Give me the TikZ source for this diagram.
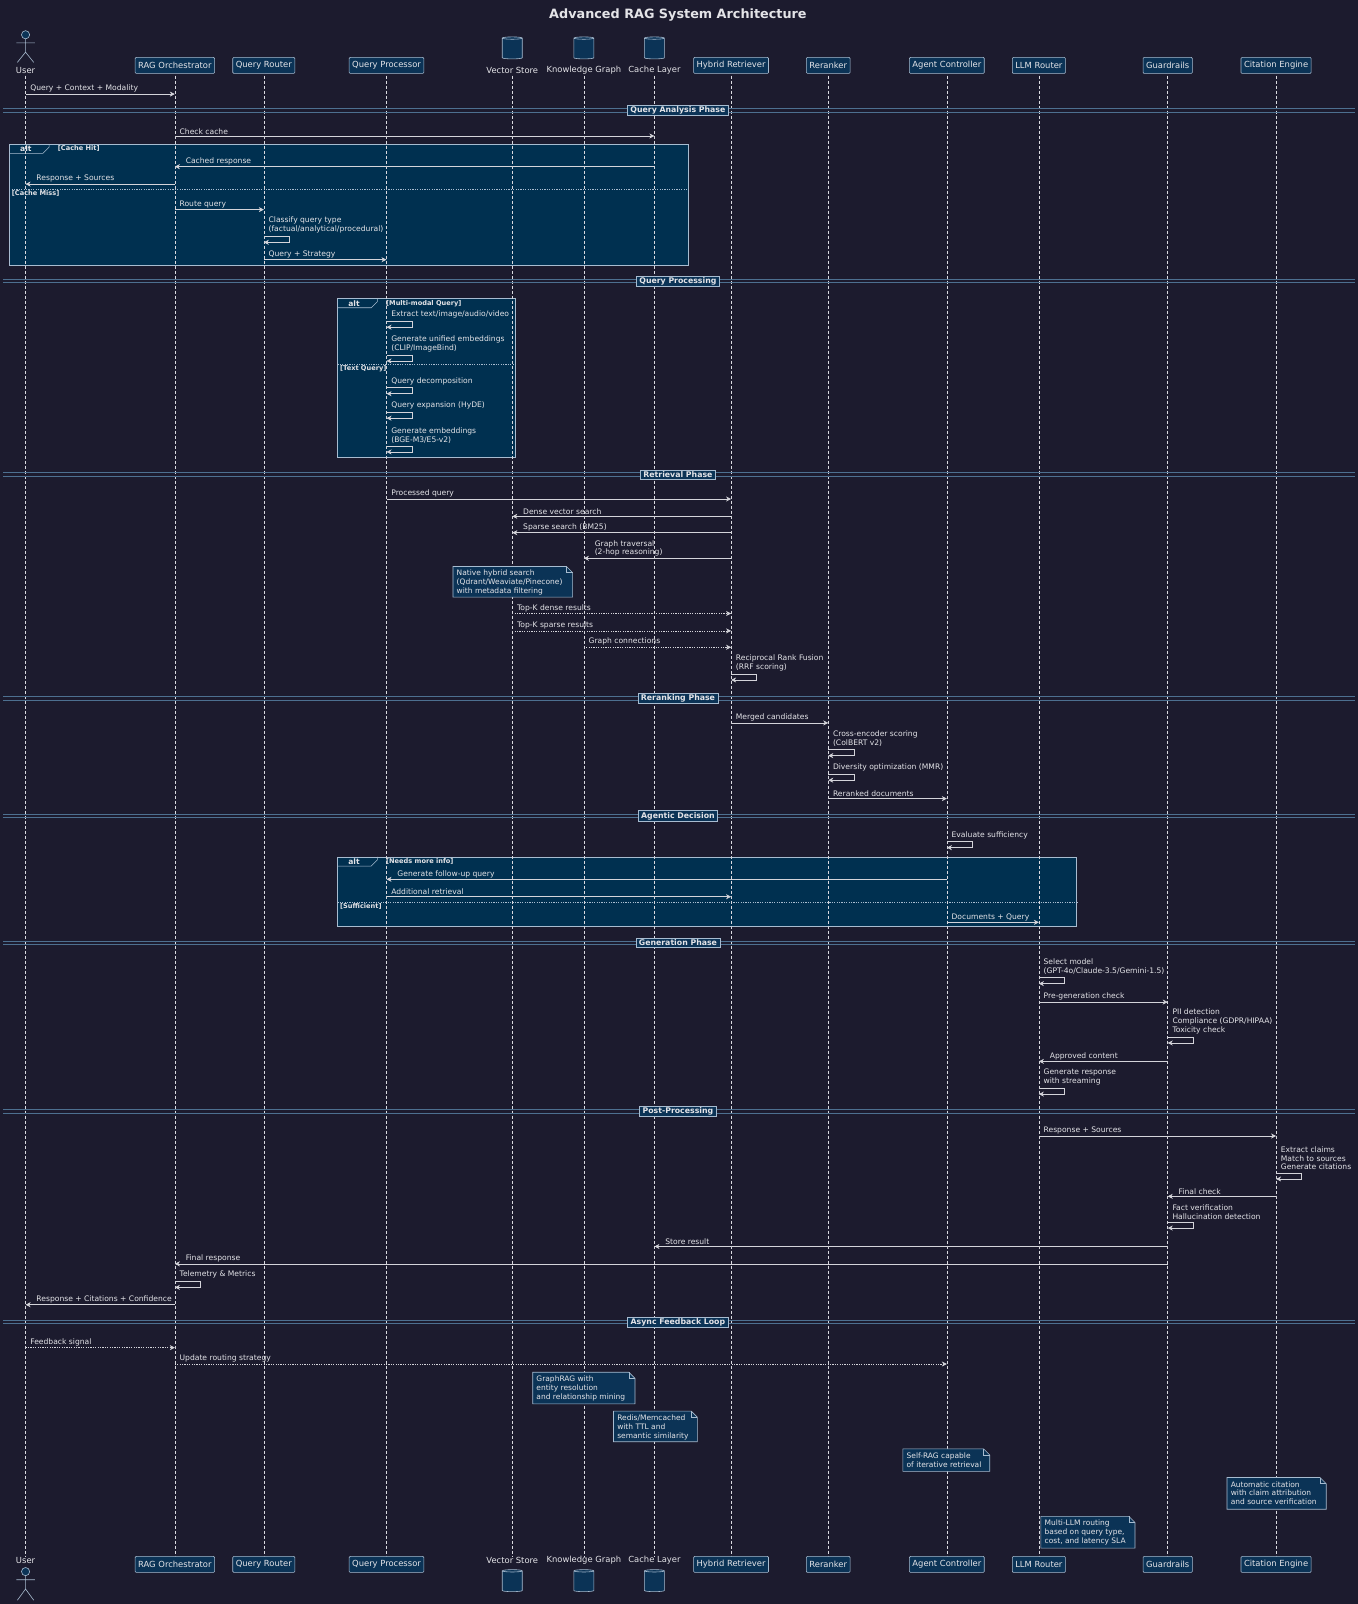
\documentclass[tikz,border=0pt]{standalone}
\usepackage{fontspec}
\setmainfont{DejaVu Sans}
\usetikzlibrary{arrows.meta,shapes.geometric,calc}
\definecolor{bg}{HTML}{1C1B2E}
\definecolor{txt}{HTML}{E4E4E8}
\definecolor{ln}{HTML}{D4D4DA}
\definecolor{boxf}{HTML}{0B3356}
\definecolor{boxd}{HTML}{A8BCD0}
\definecolor{altf}{HTML}{003050}
\definecolor{divl}{HTML}{4D7090}
\tikzset{
  lbl/.style={anchor=south west,inner sep=0.5pt,text=txt,font=\fontsize{7.6}{8.9}\selectfont,align=left},
  msgline/.style={draw=ln,line width=0.6pt,-{Stealth[length=5pt,width=5pt,inset=1.5pt]}},
  dot/.style={dash pattern=on 1.2pt off 1.2pt},
  part/.style={draw=boxd,fill=boxf,text=txt,rounded corners=1pt,minimum height=16pt,inner xsep=3pt,inner ysep=1pt,font=\fontsize{8.4}{10}\selectfont,line width=0.6pt},
  db/.style={cylinder,shape border rotate=90,aspect=0.35,draw=boxd,fill=boxf,minimum width=20pt,minimum height=22pt,line width=0.6pt},
  plbl/.style={text=txt,font=\fontsize{8.4}{10}\selectfont,inner sep=0.5pt},
  lifeline/.style={draw=ln!85,line width=0.5pt,dash pattern=on 3pt off 2pt},
  altbox/.style={draw=boxd,fill=altf,line width=0.6pt},
  guard/.style={anchor=north west,inner sep=0.5pt,text=txt,font=\bfseries\fontsize{6.6}{7.5}\selectfont},
  notebox/.style={draw=boxd,fill=boxf,line width=0.6pt},
  divlbl/.style={draw=boxd,fill=boxf,text=txt,font=\bfseries\fontsize{7.8}{9}\selectfont,inner xsep=3pt,inner ysep=1.5pt,line width=0.6pt},
}
\newcommand\mR[5][]{\draw[msgline,#1] (#2|-0,#4) -- (#3|-0,#4); \node[lbl] at ($(#2|-0,#4)+(4,-1)$) {#5};}
\newcommand\mL[5][]{\draw[msgline,#1] (#2|-0,#4) -- (#3|-0,#4); \node[lbl] at ($(#3|-0,#4)+(10,-1)$) {#5};}
\newcommand\selfm[3]{\draw[msgline] (#1|-0,#2) -- ($(#1|-0,#2)+(25,0)$) -- ($(#1|-0,#2)+(25,6)$) -- ($(#1|-0,#2)+(0,6)$); \node[lbl] at ($(#1|-0,#2)+(4,-2)$) {#3};}
\newcommand\divider[2]{\draw[divl,line width=0.8pt] (3,#1-1.6) -- (1325,#1-1.6) (3,#1+1.6) -- (1325,#1+1.6); \node[divlbl] at (663,#1) {#2};}
\newcommand\altframe[5]{%
  \draw[altbox] (#1,#2) rectangle (#3,#4);
  \draw[boxd,line width=0.6pt] (#1,#2+9) -- (#1+33,#2+9) -- (#1+39,#2+3) -- (#1+39,#2);
  \node[anchor=west,inner sep=0.5pt,text=txt,font=\bfseries\fontsize{7.6}{8}\selectfont] at (#1+10,#2+4.5) {alt};
  \node[guard] at (#1+47,#2+1) {#5};}
\newcommand\note[5]{%
  \draw[notebox] (#1,#2) -- (#3-6,#2) -- (#3,#2+6) -- (#3,#4) -- (#1,#4) -- cycle;
  \draw[boxd,line width=0.6pt] (#3-6,#2) -- (#3-6,#2+6) -- (#3,#2+6);
  \node[anchor=north west,inner sep=0.5pt,text=txt,font=\fontsize{7.5}{8.8}\selectfont,align=left] at (#1+3,#2+3) {#5};}
\begin{document}
\begin{tikzpicture}[x=1.0225pt,y=-1.0225pt]
\fill[bg] (0,0) rectangle (1328.1,1568.7);
\useasboundingbox (0,0) rectangle (1328.1,1568.7);
\node[text=txt,font=\bfseries\fontsize{12.8}{14}\selectfont] (title) at (663,15) {Advanced RAG System Architecture};
% lifeline coordinates
\coordinate (U) at (25,0); \coordinate (O) at (171,0); \coordinate (R) at (258,0);
\coordinate (P) at (378,0); \coordinate (V) at (501,0); \coordinate (K) at (571,0);
\coordinate (C) at (640,0); \coordinate (H) at (715,0); \coordinate (X) at (810,0);
\coordinate (A) at (926,0); \coordinate (L) at (1016,0); \coordinate (G) at (1142,0);
\coordinate (E) at (1248,0);
% alt frames
\altframe{9}{141}{673}{259}{[Cache Hit]}
\altframe{330}{292}{504}{447}{[Multi-modal Query]}
\altframe{330}{838}{1053}{906}{[Needs more info]}
\draw[boxd,line width=0.6pt,dot] (9,185) -- (673,185);
\node[guard] at (11,186) {[Cache Miss]};
\draw[boxd,line width=0.6pt,dot] (330,356) -- (504,356);
\node[guard] at (332,357) {[Text Query]};
\draw[boxd,line width=0.6pt,dot] (330,882) -- (1053,882);
\node[guard] at (332,883) {[Sufficient]};
% lifelines
\foreach \c in {U,O,R,P,V,K,C,H,X,A,L,G,E} {\draw[lifeline] (\c|-0,74) -- (\c|-0,1522);}
% participants top
\node[part] (tO) at (171,64) {RAG Orchestrator};
\node[part] (tR) at (258,64) {Query Router};
\node[part] (tP) at (378,64) {Query Processor};
\node[part] (tH) at (715,64) {Hybrid Retriever};
\node[part] (tX) at (810,64) {Reranker};
\node[part] (tA) at (926,64) {Agent Controller};
\node[part] (tL) at (1016,64) {LLM Router};
\node[part] (tG) at (1142,64) {Guardrails};
\node[part] (tE) at (1248,64) {Citation Engine};
\node[db] (tV) at (501,48) {}; \node[plbl] (tVl) at (501,69) {Vector Store};
\node[db] (tK) at (571,48) {}; \node[plbl] (tKl) at (571,69) {Knowledge Graph};
\node[db] (tC) at (640,48) {}; \node[plbl] (tCl) at (640,69) {Cache Layer};
\node[plbl] (tUl) at (25,69) {User};
\begin{scope}[draw=boxd,line width=0.6pt]
\draw[fill=boxf] (25,34) circle (4);
\draw (25,38) -- (25,51) (16,42) -- (34,42) (17,61) -- (25,51) -- (33,61);
\end{scope}
% participants bottom
\node[part] (bO) at (171,1530) {RAG Orchestrator};
\node[part] (bR) at (258,1530) {Query Router};
\node[part] (bP) at (378,1530) {Query Processor};
\node[part] (bH) at (715,1530) {Hybrid Retriever};
\node[part] (bX) at (810,1530) {Reranker};
\node[part] (bA) at (926,1530) {Agent Controller};
\node[part] (bL) at (1016,1530) {LLM Router};
\node[part] (bG) at (1142,1530) {Guardrails};
\node[part] (bE) at (1248,1530) {Citation Engine};
\node[plbl] (bVl) at (501,1526) {Vector Store}; \node[db] (bV) at (501,1547) {};
\node[plbl] (bKl) at (571,1526) {Knowledge Graph}; \node[db] (bK) at (571,1547) {};
\node[plbl] (bCl) at (640,1526) {Cache Layer}; \node[db] (bC) at (640,1547) {};
\node[plbl] (bUl) at (25,1526) {User};
\begin{scope}[draw=boxd,line width=0.6pt]
\draw[fill=boxf] (25,1537) circle (4);
\draw (25,1541) -- (25,1554) (16,1545) -- (34,1545) (17,1565) -- (25,1554) -- (33,1565);
\end{scope}
% messages
\mR{U}{O}{92}{Query + Context + Modality}
\divider{108}{Query Analysis Phase}
\mR{O}{C}{133}{Check cache}
\mL{C}{O}{163}{Cached response}
\mL{O}{U}{180}{Response + Sources}
\mR{O}{R}{205}{Route query}
\selfm{R}{231}{Classify query type\\(factual/analytical/procedural)}
\mR{R}{P}{254}{Query + Strategy}
\divider{275}{Query Processing}
\selfm{P}{314}{Extract text/image/audio/video}
\selfm{P}{347}{Generate unified embeddings\\(CLIP/ImageBind)}
\selfm{P}{379}{Query decomposition}
\selfm{P}{403}{Query expansion (HyDE)}
\selfm{P}{436}{Generate embeddings\\(BGE-M3/E5-v2)}
\divider{464}{Retrieval Phase}
\mR{P}{H}{488}{Processed query}
\mL{H}{V}{505}{Dense vector search}
\mL{H}{V}{521}{Sparse search (BM25)}
\mL{H}{K}{546}{Graph traversal\\(2-hop reasoning)}
\note{443}{554}{560}{584}{Native hybrid search\\(Qdrant/Weaviate/Pinecone)\\with metadata filtering}
\mR[dot]{V}{H}{600}{Top-K dense results}
\mR[dot]{V}{H}{617}{Top-K sparse results}
\mR[dot]{K}{H}{633}{Graph connections}
\selfm{H}{659}{Reciprocal Rank Fusion\\(RRF scoring)}
\divider{683}{Reranking Phase}
\mR{H}{X}{707}{Merged candidates}
\selfm{X}{733}{Cross-encoder scoring\\(ColBERT v2)}
\selfm{X}{757}{Diversity optimization (MMR)}
\mR{X}{A}{781}{Reranked documents}
\divider{798}{Agentic Decision}
\selfm{A}{823}{Evaluate sufficiency}
\mL{A}{P}{860}{Generate follow-up query}
\mR{P}{H}{877}{Additional retrieval}
\mR{A}{L}{902}{Documents + Query}
\divider{922}{Generation Phase}
\selfm{L}{956}{Select model\\(GPT-4o/Claude-3.5/Gemini-1.5)}
\mR{L}{G}{980}{Pre-generation check}
\selfm{G}{1014}{PII detection\\Compliance (GDPR/HIPAA)\\Toxicity check}
\mL{G}{L}{1038}{Approved content}
\selfm{L}{1064}{Generate response\\with streaming}
\divider{1087}{Post-Processing}
\mR{L}{E}{1111}{Response + Sources}
\selfm{E}{1147}{Extract claims\\Match to sources\\Generate citations}
\mL{E}{G}{1170}{Final check}
\selfm{G}{1195}{Fact verification\\Hallucination detection}
\mL{G}{C}{1219}{Store result}
\mL{G}{O}{1236}{Final response}
\selfm{O}{1253}{Telemetry \& Metrics}
\mL{O}{U}{1276}{Response + Citations + Confidence}
\divider{1293}{Async Feedback Loop}
\mR[dot]{U}{O}{1318}{Feedback signal}
\mR[dot]{O}{A}{1334}{Update routing strategy}
% notes
\note{521}{1342}{621}{1373}{GraphRAG with\\entity resolution\\and relationship mining}
\note{600}{1380}{682}{1410}{Redis/Memcached\\with TTL and\\semantic similarity}
\note{883}{1417}{968}{1439}{Self-RAG capable\\of iterative retrieval}
\note{1200}{1445}{1297}{1476}{Automatic citation\\with claim attribution\\and source verification}
\note{1018}{1483}{1110}{1514}{Multi-LLM routing\\based on query type,\\cost, and latency SLA}
\end{tikzpicture}
\end{document}
